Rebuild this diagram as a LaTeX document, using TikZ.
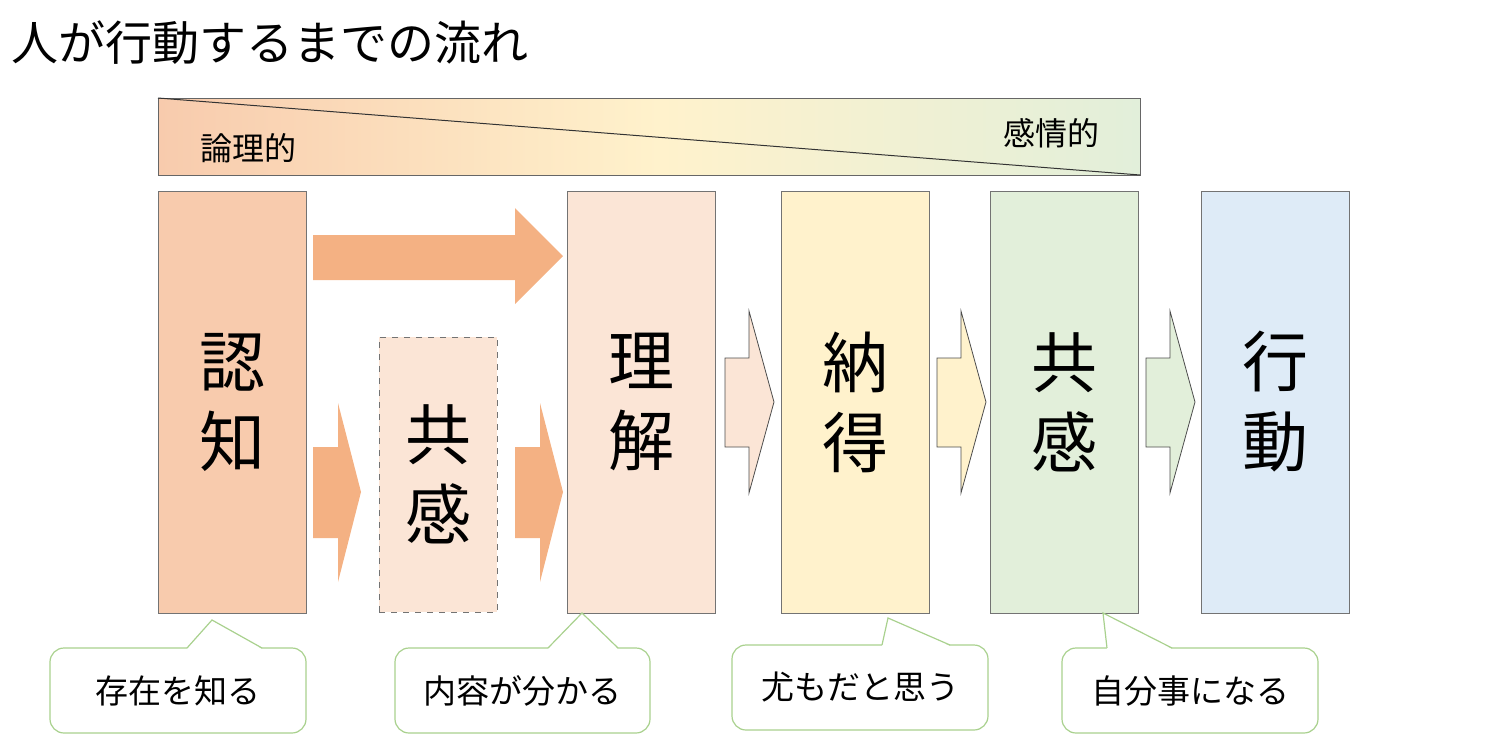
\documentclass[tikz,border=0pt]{standalone}
\usepackage{fontspec}
\setmainfont{Noto Sans CJK JP}
\begin{document}
\begin{tikzpicture}[x=0.5pt,y=-0.5pt,
  box/.style={draw=black!55,line width=0.5pt,minimum width=74pt,inner sep=0pt,font=\fontsize{33}{40}\selectfont,align=center},
  arr/.style={draw=black!70,line width=0.4pt},
  ctext/.style={font=\fontsize{16.5}{19}\selectfont}]
\definecolor{c1}{HTML}{F8CBAD}\definecolor{c2}{HTML}{FBE5D6}\definecolor{c3}{HTML}{FFF2CC}
\definecolor{c4}{HTML}{E2EFDA}\definecolor{c5}{HTML}{DEEBF7}\definecolor{ca}{HTML}{F4B183}
\definecolor{cg}{HTML}{A9D18E}
\useasboundingbox (0,0) rectangle (1512,756);
\node[anchor=west,font=\fontsize{23.5}{28}\selectfont] (title) at (4,43) {人が行動するまでの流れ};
% gradient bar
\shade[left color=c1,right color=c3] (158,98) rectangle (660,175);
\shade[left color=c3,right color=c4] (660,98) rectangle (1140,175);
\draw[black!60,line width=0.5pt] (158,98) rectangle (1140,175);
\draw[black!80,line width=0.5pt] (158,98) -- (1140,175);
\node[font=\fontsize{16}{19}\selectfont] (logic) at (248,148) {論理的};
\node[font=\fontsize{16}{19}\selectfont] (emo) at (1051,133) {感情的};
% boxes
\node[box,fill=c1,minimum height=211pt] (ninchi) at (232,402) {認\\知};
\node[box,fill=c2,dashed,minimum width=59pt,minimum height=137.5pt] (kyokan1) at (438,474.5) {共\\感};
\node[box,fill=c2,minimum height=211pt] (rikai) at (641.5,402) {理\\解};
\node[box,fill=c3,minimum height=211pt] (nattoku) at (855,402) {納\\得};
\node[box,fill=c4,minimum height=211pt] (kyokan2) at (1064,402) {共\\感};
\node[box,fill=c5,minimum height=211pt] (kodo) at (1275.5,402) {行\\動};
% big arrow
\fill[ca] (313,235) -- (515,235) -- (515,208) -- (563,256) -- (515,304) -- (515,280) -- (313,280) -- cycle;
% small arrows
\foreach \x/\c in {313/ca,515/ca}{
 \fill[\c] (\x,447) -- (\x+25,447) -- (\x+25,403) -- (\x+48,492) -- (\x+25,582) -- (\x+25,538) -- (\x,538) -- cycle;}
\foreach \x/\c in {725/c2,937/c3,1146/c4}{
 \filldraw[arr,fill=\c] (\x,358) -- (\x+24,358) -- (\x+24,311) -- (\x+49,402) -- (\x+24,493) -- (\x+24,447) -- (\x,447) -- cycle;}
% callouts
\foreach \a/\b/\l/\r/\tx/\ty/\bl/\br/\t [count=\i] in
 {648/733/50/306/212/620/187/262/存在を知る,
  648/733/395/650/582/613/548/618/内容が分かる,
  645/730/732/988/888/618/882/950/尤もだと思う,
  648/733/1062/1318/1103/613/1107/1172/自分事になる}{
 \draw[cg,line width=0.6pt,rounded corners=7pt,fill=white] (\l,\a) rectangle (\r,\b);
 \fill[white] (\bl,\a+1) -- (\tx,\ty) -- (\br,\a+1) -- cycle;
 \draw[cg,line width=0.6pt] (\bl,\a) -- (\tx,\ty) -- (\br,\a);
 \node[ctext] (callout\i) at ({(\l+\r)/2},{(\a+\b)/2}) {\t};}
\end{tikzpicture}
\end{document}
